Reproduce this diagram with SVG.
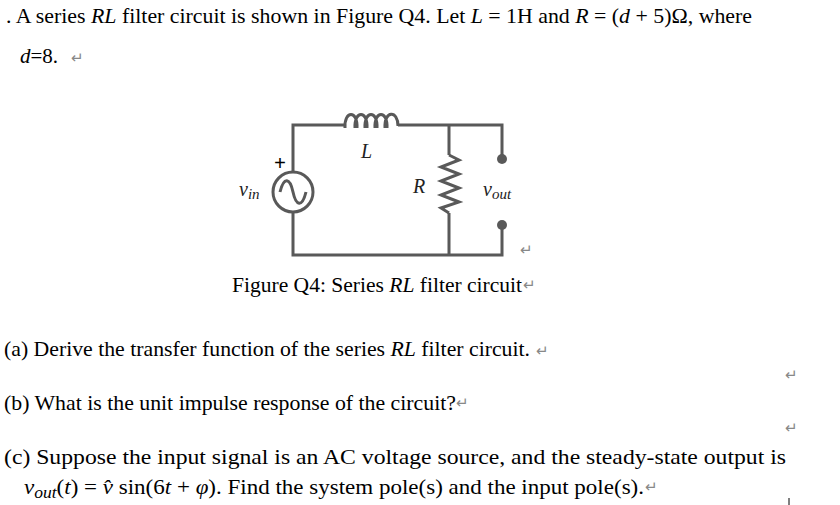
<svg xmlns="http://www.w3.org/2000/svg" width="840" height="505" viewBox="0 0 840 505">
<style>
text{font-family:"Liberation Serif",serif;font-size:21px;fill:#000}
.w{fill:none;stroke:#595959;stroke-width:3}
.ret{fill:#888;font-size:15px}
.s{font-size:20px;fill:#222}
</style>
<rect width="840" height="505" fill="#fff"/>
<g id="text">
<text x="6" y="23" textLength="746" lengthAdjust="spacingAndGlyphs">. A series <tspan font-style="italic">RL</tspan> filter circuit is shown in Figure Q4. Let <tspan font-style="italic">L</tspan> = 1H and <tspan font-style="italic">R</tspan> = (<tspan font-style="italic">d</tspan> + 5)Ω, where</text>
<text x="20" y="63"><tspan font-style="italic">d</tspan>=8. <tspan class="ret" dx="8">↵</tspan></text>
<text x="232" y="292" textLength="290" lengthAdjust="spacingAndGlyphs">Figure Q4: Series <tspan font-style="italic">RL</tspan> filter circuit</text><text x="523" y="290" class="ret">↵</text>
<text x="4" y="356" textLength="526" lengthAdjust="spacingAndGlyphs">(a) Derive the transfer function of the series <tspan font-style="italic">RL</tspan> filter circuit.</text><text x="536" y="356" class="ret">↵</text>
<text x="785" y="380" class="ret">↵</text>
<text x="4" y="410" textLength="452" lengthAdjust="spacingAndGlyphs">(b) What is the unit impulse response of the circuit?</text><text x="456" y="408" class="ret">↵</text>
<text x="785" y="433" class="ret">↵</text>
<text x="4" y="464" textLength="782" lengthAdjust="spacingAndGlyphs">(c) Suppose the input signal is an AC voltage source, and the steady-state output is</text>
<text x="24" y="494" textLength="620" lengthAdjust="spacingAndGlyphs"><tspan font-style="italic">v</tspan><tspan font-style="italic" font-size="16" dy="4">out</tspan><tspan dy="-4">(<tspan font-style="italic">t</tspan>) = <tspan font-style="italic">v̂</tspan> sin(6<tspan font-style="italic">t</tspan> + <tspan font-style="italic">φ</tspan>). Find the system pole(s) and the input pole(s).</tspan></text><text x="645" y="492" class="ret">↵</text>
<line x1="789" y1="498" x2="789" y2="505" stroke="#000"/>
</g>
<g id="connectors">
<path class="w" d="M293,172 V125 H345 M398,125 H502 V159 M293,212 V255 H502 V225 M449,125 V155 M449,213 V255"/>
</g>
<g id="inductor">
<path class="w" d="M345,128 C344,110 358,110 357,128 M355,128 C354,110 368,110 367,128 M365,128 C364,110 378,110 377,128 M375,128 C374,110 388,110 387,128 M385,128 C384,110 398,110 398,126"/>
<text x="361" y="158" class="s" font-style="italic">L</text>
</g>
<g id="resistor">
<path class="w" d="M449,155 L459,160 L441,167 L459,174 L441,181 L459,188 L441,195 L459,202 L441,208 L449,213"/>
<text x="413" y="193" class="s" font-style="italic">R</text>
</g>
<g id="source">
<circle cx="293" cy="192" r="20" class="w" fill="#fff"/>
<path class="w" d="M280,192 C284,176 290,178 293,192 C296,206 302,208 306,192"/>
<text x="274" y="170" font-family="Liberation Sans" font-weight="bold" font-size="20" fill="#595959">+</text>
<text x="239" y="196" class="s" font-style="italic">v<tspan font-size="15" dy="3">in</tspan></text>
</g>
<g id="output">
<circle cx="502" cy="159" r="5" fill="#595959"/>
<circle cx="502" cy="225" r="5" fill="#595959"/>
<text x="483" y="196" class="s" font-style="italic">v<tspan font-size="15" dy="3">out</tspan></text>
<text x="520" y="255" class="ret">↵</text>
</g>
</svg>
